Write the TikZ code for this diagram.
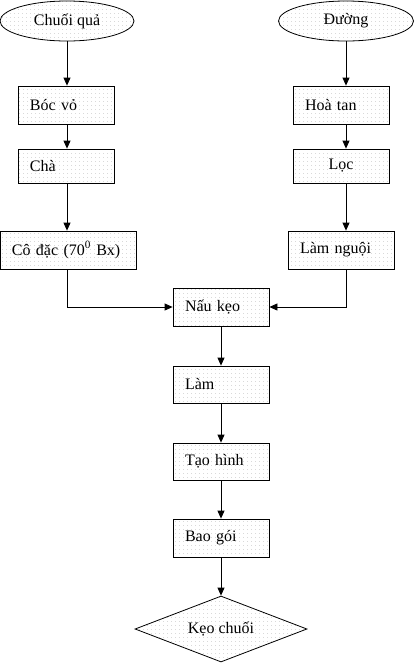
\documentclass[tikz,border=0pt]{standalone}
\usepackage{fontspec}
\setmainfont{Liberation Serif}
\usetikzlibrary{shapes.geometric,arrows.meta,patterns.meta}
\tikzset{
  base/.style={draw=black,line width=0.8pt,pattern={Dots[distance=4pt,radius=0.35pt]},pattern color=gray!70,font=\fontsize{16}{18}\selectfont,inner sep=0pt},
  box/.style={base,rectangle,minimum width=#1,text width=#1-24pt,align=left,inner xsep=12pt},
  oval/.style={base,ellipse,minimum width=134pt,minimum height=40pt},
  endd/.style={base,diamond,aspect=2.6,minimum width=172pt,minimum height=66pt},
  arr/.style={line width=0.8pt,-{Triangle[length=8pt,width=7pt]}}
}
\begin{document}
\begin{tikzpicture}[x=1pt,y=-1pt]
\useasboundingbox (0,0) rectangle (414,665);
\node[oval] (chuoi) at (67,21) {Chuối quả};
\node[oval,minimum width=135pt] (duong) at (346,21) {Đường};
\node[box=96pt,minimum height=38pt] (boc) at (66,105) {Bóc vỏ};
\node[box=96pt,minimum height=34pt] (cha) at (66,166) {Chà};
\node[box=136pt,minimum height=38pt] (coda) at (68,250) {Cô đặc (70\textsuperscript{0} Bx)};
\node[box=96pt,minimum height=38pt] (hoa) at (341,105) {Hoà tan};
\node[box=96pt,minimum height=34pt,align=center] (loc) at (341,166) {Lọc};
\node[box=106pt,minimum height=38pt] (lamng) at (341,250) {Làm nguội};
\node[box=96pt,minimum height=38pt] (nau) at (221,307) {Nấu kẹo};
\node[box=96pt,minimum height=37pt] (lam) at (221,384.5) {Làm};
\node[box=96pt,minimum height=37pt] (tao) at (221,461.5) {Tạo hình};
\node[box=96pt,minimum height=38pt] (bao) at (221,538) {Bao gói};
\node[endd] (keo) at (221,629) {Kẹo chuối};
\draw[arr] (chuoi.south) -- (chuoi.south |- boc.north);
\draw[arr] (chuoi.south |- boc.south) -- (chuoi.south |- cha.north);
\draw[arr] (chuoi.south |- cha.south) -- (chuoi.south |- coda.north);
\draw[arr] (chuoi.south |- coda.south) |- (nau.west);
\draw[arr] (duong.south) -- (duong.south |- hoa.north);
\draw[arr] (duong.south |- hoa.south) -- (duong.south |- loc.north);
\draw[arr] (duong.south |- loc.south) -- (duong.south |- lamng.north);
\draw[arr] (duong.south |- lamng.south) |- (nau.east);
\draw[arr] (nau) -- (lam);
\draw[arr] (lam) -- (tao);
\draw[arr] (tao) -- (bao);
\draw[arr] (bao) -- (keo);
\end{tikzpicture}
\end{document}
